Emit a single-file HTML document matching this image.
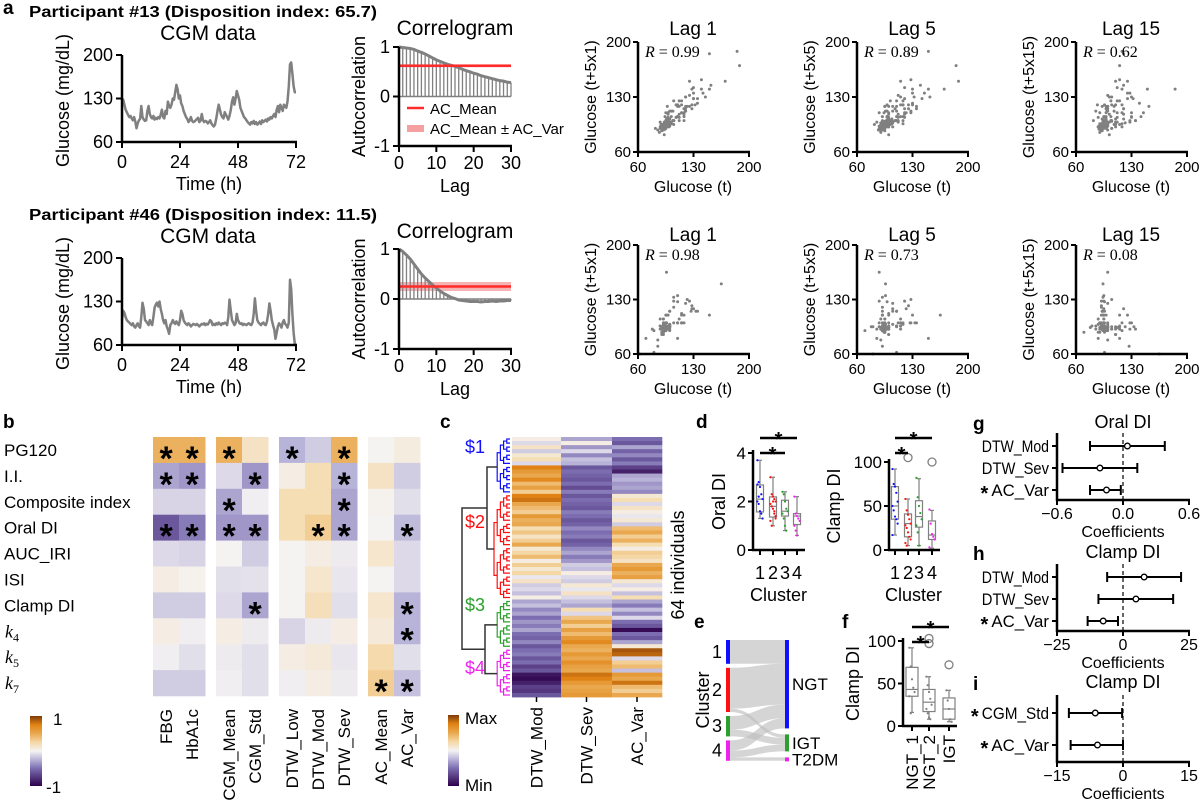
<!DOCTYPE html>
<html><head><meta charset="utf-8"><style>
body{margin:0;background:#fff}
svg{font-family:"Liberation Sans",Arial,sans-serif;display:block}
</style></head><body>
<svg id="fig" xmlns="http://www.w3.org/2000/svg" width="1200" height="808" viewBox="0 0 1200 808"></svg>
<script>
// ===== DATA =====
const cgm13=[130,128,120,112,108,104,100,102,98,95,100,93,82,90,95,97,118,100,96,94,95,110,118,105,
100,98,102,96,99,97,100,98,104,112,100,98,110,105,125,118,115,120,130,128,140,152,145,130,
135,122,118,110,105,100,97,92,95,100,94,92,93,95,97,99,92,94,105,95,92,94,93,90,
92,95,90,87,85,88,98,110,120,112,104,100,98,108,104,100,96,102,112,125,132,120,130,142,
135,128,115,110,105,100,98,95,92,90,88,92,90,94,89,92,88,90,93,89,95,92,94,96,
93,98,96,100,98,102,105,100,112,118,108,120,115,110,120,118,115,125,150,185,188,170,150,140,140];
const cgm46=[100,115,112,105,100,98,96,94,92,95,90,88,
92,95,90,88,105,128,118,100,98,95,92,100,
95,92,105,120,125,128,122,130,118,110,100,95,
100,90,85,78,92,95,100,96,94,98,95,92,
100,115,110,100,96,94,92,95,93,90,92,94,
93,92,94,92,90,92,94,93,95,92,94,93,
96,100,98,92,94,92,95,93,96,94,92,95,
94,96,95,92,105,133,115,100,96,92,95,110,
100,96,94,95,92,94,93,92,94,95,93,92,
96,110,135,115,100,96,94,92,95,96,93,92,
98,110,127,115,100,92,85,70,80,90,95,92,
88,96,100,94,92,88,96,165,150,110,80,62,60];
const acf13=[1,.99,.98,.97,.95,.92,.89,.86,.82,.78,.74,.71,.68,.65,.63,.61,.58,.55,.52,.5,.47,.45,.42,.4,.38,.36,.34,.32,.31,.29,.28];
const acf46=[1,.95,.88,.8,.7,.6,.5,.42,.35,.28,.22,.16,.11,.07,.03,.01,-.02,-.03,-.04,-.05,-.05,-.05,-.06,-.05,-.05,-.04,-.05,-.04,-.04,-.03,-.03];
const acMeans=[0.62,0.25];
const acVars=[0.03,0.09];
const lagLabels=[1,5,15];
const lagSteps=[1,2,5];
const rVals13=["0.99","0.89","0.62"];
const rVals46=["0.98","0.73","0.08"];

const bRows=["PG120","I.I.","Composite index","Oral DI","AUC_IRI","ISI","Clamp DI","k4","k5","k7"];
const bCols=["FBG","HbA1c","CGM_Mean","CGM_Std","DTW_Low","DTW_Mod","DTW_Sev","AC_Mean","AC_Var"];
const bVals=[
[.45,.45,.45,.15,-.25,-.15,.45,0,.06],
[-.3,-.35,-.1,-.35,.05,.2,-.25,.15,-.15],
[-.12,-.12,-.3,-.02,.2,.2,-.3,.02,-.08],
[-.6,-.45,-.35,-.35,.2,.3,-.3,0,-.22],
[-.1,-.12,0,-.15,0,.05,-.03,.12,-.1],
[.05,.02,-.08,-.07,0,.12,-.05,0,-.1],
[-.15,-.15,-.1,-.3,0,.18,-.08,.12,-.25],
[.05,-.02,.05,-.03,-.12,-.03,.05,.08,-.25],
[-.02,-.08,-.03,-.08,.05,.08,-.05,.22,-.08],
[-.15,-.15,-.02,-.08,-.02,.05,-.03,.3,-.2]];
const bStars=[
[1,1,1,0,1,0,1,0,0],[1,1,0,1,0,0,1,0,0],[0,0,1,0,0,0,1,0,0],[1,1,1,1,0,1,1,0,1],
[0,0,0,0,0,0,0,0,0],[0,0,0,0,0,0,0,0,0],[0,0,0,1,0,0,0,0,1],[0,0,0,0,0,0,0,0,1],
[0,0,0,0,0,0,0,0,0],[0,0,0,0,0,0,0,1,1]];

const cCols=["DTW_Mod","DTW_Sev","AC_Var"];
const cDtwMod=[.05,-.1,.15,-.15,.1,.2,-.1,.75,.6,.5,.7,.4,.55,.3,.75,.8,.5,.4,.3,.6,.45,.5,.2,.35,.15,.3,.5,.1,.25,.4,.05,.3,.1,.25,-.05,.15,-.15,-.1,-.2,.05,-.3,-.2,-.4,-.3,-.5,-.35,-.45,-.3,-.5,-.55,-.4,-.6,-.5,-.45,-.6,-.5,-.7,-.6,-.9,-.95,-.85,-.7,-.75,-.6];
const cDtwSev=[-.3,.05,-.35,-.1,-.4,-.2,-.25,-.6,-.5,-.55,-.6,-.5,-.65,-.45,-.6,-.5,-.55,-.6,-.45,-.5,-.6,-.55,-.4,-.5,-.45,-.6,-.55,-.4,-.3,-.45,-.35,-.15,-.2,.05,-.1,-.15,.1,-.05,.15,-.1,-.2,-.3,.2,-.1,.35,.5,.3,.55,.4,.6,.7,.5,.45,.6,.5,.65,.55,.5,.8,.75,.6,.5,.55,.6];
const cAcVar=[-.5,-.6,-.3,-.55,-.4,-.6,-.45,-.7,-.85,-.3,-.25,-.35,-.3,-.4,.1,.2,-.1,.15,.05,-.05,.1,-.15,.4,.5,.3,.45,.2,.05,.3,.25,.15,.5,.6,.45,.55,.1,-.1,.05,-.2,.2,-.3,-.45,-.2,-.4,-.1,-.5,-.6,-.95,-.5,-.6,-.3,.1,.9,.85,-.1,.3,.4,-.2,.6,.5,.8,.4,.3,.5];
const clusterStarts=[0,14,40,52];
const clusterEnds=[13,39,51,63];

const clusterNames=["1","2","3","4"];
const oralStats=[[1.3,1.57,2.1,2.68,3.7],[1.0,1.36,1.8,2.19,3.0],[0.8,1.4,1.6,2.05,2.4],[0.6,1.05,1.4,1.5,2.2]];
const oralPts=[[3.7,2.8,2.6,2.3,2.1,2.0,1.9,1.6,1.5,1.3,2.7,2.2],[3.0,2.3,2.2,2.1,2.0,1.9,1.8,1.7,1.5,1.3,1.2,1.0,2.0,1.6,1.4],[2.4,2.3,2.0,1.7,1.6,1.5,1.3,1.0,0.8],[2.2,1.5,1.4,1.3,1.2,1.0,0.8,0.6]];
const clampStats=[[17,35,50,72,92],[5,15,30,41,58],[5,26,38,56,81],[2,12,17,33,45]];
const clampOut=[[],[105],[],[100]];
const clampPts=[[92,75,72,65,55,50,45,38,35,30,17],[58,45,40,35,30,28,25,20,15,12,8,5],[82,60,50,42,35,28,20,5],[46,30,18,15,12,3]];
const fNames=["NGT_1","NGT_2","IGT"];
const fStats=[[16,35,43,69,92],[8,17,28,43,58],[5,8,20,33,42]];
const fOut=[[],[97,103],[72]];
const fPts=[[92,70,55,45,40,35,15],[58,48,40,32,25,20,15,10,8],[42,30,20,8,5]];

const sankeyGroups=["NGT","IGT","T2DM"];
const sankeyCounts=[[7,0,0],[12,1,0],[4,2,0],[3,2,1]];

const gLabels=["DTW_Mod","DTW_Sev","AC_Var"]; const gStar=[0,0,1];
const gEst=[0.04,-0.21,-0.15]; const gLo=[-0.30,-0.55,-0.30]; const gHi=[0.38,0.13,-0.02];
const hLabels=["DTW_Mod","DTW_Sev","AC_Var"]; const hStar=[0,0,1];
const hEst=[8,4.9,-7.5]; const hLo=[-6,-9.3,-13.4]; const hHi=[22,19,-1.9];
const iLabels=["CGM_Std","AC_Var"]; const iStar=[1,1];
const iEst=[-6.3,-5.8]; const iLo=[-12.3,-11.9]; const iHi=[-0.2,0];

// ===== HELPERS =====
const NS="http://www.w3.org/2000/svg";
const svg=document.getElementById("fig");
function mk(tag,attrs,name,parent){
  const el=document.createElementNS(NS,tag);
  for(const k in attrs) el.setAttribute(k,attrs[k]);
  
  
  (parent||svg).appendChild(el);
  return el;
}
function txt(x,y,s,name,o){
  o=o||{};
  const el=mk("text",{x:x,y:y,"font-size":o.size||16,"text-anchor":o.anchor||"middle",fill:o.fill||"#000"},name);
  el.textContent=s;
  if(o.rot) el.setAttribute("transform","rotate(-90 "+x+" "+y+")");
  if(o.bold) el.setAttribute("font-weight","bold");
  if(o.italic) el.setAttribute("font-style","italic");
  if(o.family) el.setAttribute("font-family",o.family);
  if(o.len){el.setAttribute("textLength",o.len);el.setAttribute("lengthAdjust","spacingAndGlyphs");}
  return el;
}
function ln(x1,y1,x2,y2,name,o){
  o=o||{};
  const el=mk("line",{x1:x1,y1:y1,x2:x2,y2:y2,stroke:o.stroke||"#000","stroke-width":o.w||2},name);
  if(o.dash) el.setAttribute("stroke-dasharray",o.dash);
  return el;
}
function lin(d0,d1,r0,r1){return v=>r0+(v-d0)/(d1-d0)*(r1-r0);}
const stops=[[-1,[45,0,75]],[-.5,[123,109,176]],[-.25,[184,179,216]],[0,[245,243,242]],[.25,[245,215,165]],[.5,[233,168,78]],[.75,[224,130,20]],[1,[127,59,8]]];
function cmap(v){
  v=Math.max(-1,Math.min(1,v));
  for(let i=0;i<stops.length-1;i++){
    const a=stops[i],b=stops[i+1];
    if(v<=b[0]){const t=(v-a[0])/(b[0]-a[0]);return "rgb("+a[1].map((c,j)=>Math.round(c+(b[1][j]-c)*t)).join(",")+")";}
  }
  return "rgb(127,59,8)";
}
const GRAY="#808080";

// ===== PANEL A =====
txt(3,14,"a","panel-label-a",{size:19,bold:true,anchor:"start"});
const rowsA=[
 {cgm:cgm13,acf:acf13,hdr:"Participant #13 (Disposition index: 65.7)",hy:17,cT:55,cB:142,aT:47,aB:146,sT:42,sB:152,off:0,r:rVals13,mean:acMeans[0],vr:acVars[0],id:"p13"},
 {cgm:cgm46,acf:acf46,hdr:"Participant #46 (Disposition index: 11.5)",hy:220,cT:258,cB:345,aT:249,aB:349,sT:245,sB:354,off:203,r:rVals46,mean:acMeans[1],vr:acVars[1],id:"p46"}];
rowsA.forEach((R,ri)=>{
  txt(29,R.hy,R.hdr,"participant-header-"+R.id,{size:16,bold:true,anchor:"start",len:348});
  const cx=lin(0,72,122,296), cy=lin(60,200,R.cB,R.cT);
  txt(208,40+R.off,"CGM data","cgm-title-"+R.id,{size:21});
  let pts=R.cgm.map((g,i)=>cx(i*0.5).toFixed(1)+","+cy(g).toFixed(1)).join(" ");
  mk("polyline",{points:pts,fill:"none",stroke:GRAY,"stroke-width":2.5,"stroke-linejoin":"round"},"cgm-line-"+R.id);
  ln(122,R.cT,122,R.cB+1,"cgm-y-axis-"+R.id,{w:2.5});
  ln(121,R.cB,297,R.cB,"cgm-x-axis-"+R.id,{w:2.5});
  [60,130,200].forEach(v=>{ln(116,cy(v),122,cy(v),"cgm-y-tick",{w:2});txt(113,cy(v)+6,String(v),"cgm-y-tick-label",{size:18,anchor:"end"});});
  [0,24,48,72].forEach(v=>{ln(cx(v),R.cB,cx(v),R.cB+6,"cgm-x-tick",{w:2});txt(cx(v),168+R.off,String(v),"cgm-x-tick-label",{size:18});});
  txt(209,190+R.off,"Time (h)","cgm-x-axis-title-"+R.id,{size:18});
  txt(69,(R.cT+R.cB)/2+2,"Glucose (mg/dL)","cgm-y-axis-title-"+R.id,{size:18,rot:true});
  const ax=lin(0,30,399,511), ay=lin(-1,1,R.aB,R.aT);
  txt(455,35+R.off,"Correlogram","correlogram-title-"+R.id,{size:21});
  mk("rect",{x:ax(0),y:ay(R.mean+R.vr),width:ax(30)-ax(0),height:ay(R.mean-R.vr)-ay(R.mean+R.vr),fill:"#f08080","fill-opacity":0.6},"ac-var-band-"+R.id);
  R.acf.forEach((v,i)=>{ln(ax(i),ay(0),ax(i),ay(v),"acf-stem",{stroke:GRAY,w:1.3});});
  mk("polyline",{points:R.acf.map((v,i)=>ax(i)+","+ay(v)).join(" "),fill:"none",stroke:GRAY,"stroke-width":3},"acf-markers-"+R.id);
  ln(ax(0),ay(0),ax(30),ay(0),"acf-zero-line",{stroke:GRAY,w:1.5});
  ln(ax(0),ay(R.mean),ax(30),ay(R.mean),"ac-mean-line-"+R.id,{stroke:"#ff2a2a",w:2.5});
  ln(399,R.aT,399,R.aB+1,"acf-y-axis",{w:2.5});
  ln(398,R.aB,512,R.aB,"acf-x-axis",{w:2.5});
  [-1,0,1].forEach(v=>{ln(393,ay(v),399,ay(v),"acf-y-tick",{w:2});txt(390,ay(v)+6,String(v),"acf-y-tick-label",{size:18,anchor:"end"});});
  [0,10,20,30].forEach(v=>{ln(ax(v),R.aB,ax(v),R.aB+6,"acf-x-tick",{w:2});txt(ax(v),169+R.off,String(v),"acf-x-tick-label",{size:18});});
  txt(455,192+R.off,"Lag","acf-x-axis-title",{size:18});
  txt(365,(R.aT+R.aB)/2,"Autocorrelation","acf-y-axis-title",{size:18,rot:true});
  if(ri===0){
    ln(407,108,424,108,"legend-ac-mean-swatch",{stroke:"#ff2a2a",w:2.5});
    txt(430,114,"AC_Mean","legend-ac-mean-label",{size:15,anchor:"start"});
    mk("rect",{x:407,y:125,width:17,height:7,fill:"#f08080","fill-opacity":0.75},"legend-ac-var-swatch");
    txt(430,134,"AC_Mean ± AC_Var","legend-ac-var-label",{size:15,anchor:"start"});
  }
  lagLabels.forEach((L,k)=>{
    const x0=638+k*219;
    const sx=lin(60,200,x0,x0+111), sy=lin(60,200,R.sB,R.sT);
    txt(x0+55,35+R.off+(ri?3:0),"Lag "+L,"lag"+L+"-title-"+R.id,{size:19});
    const st=lagSteps[k];
    for(let i=0;i+st<R.cgm.length;i++){
      mk("circle",{cx:sx(R.cgm[i]).toFixed(1),cy:sy(R.cgm[i+st]).toFixed(1),r:1.5,fill:GRAY},"lag-scatter-point");
    }
    ln(x0,R.sT,x0,R.sB+1,"lag-y-axis",{w:2.5});
    ln(x0-1,R.sB,x0+112,R.sB,"lag-x-axis",{w:2.5});
    [60,130,200].forEach(v=>{
      ln(x0-5,sy(v),x0,sy(v),"lag-y-tick",{w:2});txt(x0-7,sy(v)+5,String(v),"lag-y-tick-label",{size:15,anchor:"end"});
      ln(sx(v),R.sB,sx(v),R.sB+5,"lag-x-tick",{w:2});txt(sx(v),R.sB+20,String(v),"lag-x-tick-label",{size:15});
    });
    txt(x0+55,R.sB+40,"Glucose (t)","lag-x-axis-title",{size:16});
    txt(x0-42,(R.sT+R.sB)/2,"Glucose (t+5x"+L+")","lag-y-axis-title",{size:16,rot:true});
    const rt=txt(x0+7,R.sT+15,"","lag-r-value",{size:16,anchor:"start",family:'"Liberation Serif",serif'});
    const t1=mk("tspan",{"font-style":"italic"},"r-symbol",rt); t1.textContent="R";
    const t2=mk("tspan",{},"r-number",rt); t2.textContent=" = "+R.r[k];
  });
});

// ===== PANEL B =====
txt(3,428,"b","panel-label-b",{size:19,bold:true,anchor:"start"});
const bColX=[153,179,216,242,279,305,331,368,394];
const bW=26.2, bY0=437, bH=25.9;
bVals.forEach((row,r)=>row.forEach((v,c)=>{
  mk("rect",{x:bColX[c],y:bY0+r*bH,width:bW+0.3,height:bH+0.3,fill:cmap(v)},"heatmap-b-cell");
  if(bStars[r][c]) txt(bColX[c]+bW/2,bY0+r*bH+bH/2+20,"*","significance-star",{size:34,bold:true});
}));
bRows.forEach((s,r)=>{
  const y=bY0+r*bH+bH/2+6;
  if(s[0]==="k"){
    const t=txt(5,y,"","row-label-"+s,{size:18,anchor:"start",family:'"Liberation Serif",serif'});
    const a=mk("tspan",{"font-style":"italic"},"row-label-k",t); a.textContent="k";
    const b=mk("tspan",{"font-size":12,dy:4},"row-label-subscript",t); b.textContent=s.slice(1);
  } else txt(4,y,s,"row-label-"+s.toLowerCase().replace(/[^a-z0-9]+/g,"-"),{size:17,anchor:"start"});
});
bCols.forEach((s,c)=>txt(bColX[c]+bW/2+6,709,s,"col-label-"+s.toLowerCase(),{size:17,anchor:"end",rot:true}));
const defs=mk("defs",{},"gradient-defs");
const grad=mk("linearGradient",{id:"cbar",x1:0,y1:0,x2:0,y2:1},"colorbar-gradient",defs);
[1,.75,.5,.25,0,-.25,-.5,-.75,-1].forEach((v,i)=>mk("stop",{offset:(i/8),"stop-color":cmap(v)},"gradient-stop",grad));
mk("rect",{x:30,y:716,width:12,height:70,fill:"url(#cbar)"},"colorbar-b");
txt(53,725,"1","colorbar-b-max",{size:17,anchor:"start"});
txt(46,793,"-1","colorbar-b-min",{size:17,anchor:"start"});

// ===== PANEL C =====
txt(440,428,"c","panel-label-c",{size:19,bold:true,anchor:"start"});
const cX=[512,561,612], cWd=[49,51,50], cY0=437, cRH=260/64;
[cDtwMod,cDtwSev,cAcVar].forEach((arr,c)=>arr.forEach((v,i)=>{
  mk("rect",{x:cX[c],y:cY0+i*cRH,width:cWd[c]+0.3,height:cRH+0.4,fill:cmap(v)},"heatmap-c-cell");
}));
cCols.forEach((s,c)=>{const xc=cX[c]+cWd[c]/2;ln(xc,697,xc,702,"heatmap-c-tick",{w:1.5});txt(xc+6,707,s,"heatmap-c-col-label-"+s.toLowerCase(),{size:17,anchor:"end",rot:true});});
txt(684,565,"64 individuals","heatmap-c-row-axis-title",{size:18,rot:true});
const clColors=["#1010ff","#ff1010","#2ca02c","#ee22ee"];
function tree(lo,hi,color){
  const leafX=510;
  if(lo===hi) return {x:leafX,y:cY0+(lo+0.5)*cRH};
  const mid=Math.floor((lo+hi)/2);
  const a=tree(lo,mid,color), b=tree(mid+1,hi,color);
  const x=leafX-Math.ceil(Math.log2(hi-lo+1))*3.2;
  mk("polyline",{points:a.x+","+a.y+" "+x+","+a.y+" "+x+","+b.y+" "+b.x+","+b.y,fill:"none",stroke:color,"stroke-width":1.2},"dendrogram-branch");
  return {x:x,y:(a.y+b.y)/2};
}
const roots=clusterStarts.map((s,k)=>tree(s,clusterEnds[k],clColors[k]));
function join(a,b,x){mk("polyline",{points:a.x+","+a.y+" "+x+","+a.y+" "+x+","+b.y+" "+b.x+","+b.y,fill:"none",stroke:"#333","stroke-width":1.5},"dendrogram-join");return {x:x,y:(a.y+b.y)/2};}
const j12=join(roots[0],roots[1],487), j34=join(roots[2],roots[3],485);
join(j12,j34,462);
const clY=[453,528,611,674];
clY.forEach((y,k)=>txt(465,y,"$"+(k+1),"cluster-label-"+(k+1),{size:18,anchor:"start",fill:clColors[k]}));
const grad2=mk("linearGradient",{id:"cbar2",x1:0,y1:0,x2:0,y2:1},"colorbar-c-gradient",defs);
[1,.75,.5,.25,0,-.25,-.5,-.75,-1].forEach((v,i)=>mk("stop",{offset:(i/8),"stop-color":cmap(v)},"gradient-stop",grad2));
mk("rect",{x:448,y:715,width:11,height:71,fill:"url(#cbar2)"},"colorbar-c");
txt(465,724,"Max","colorbar-c-max",{size:17,anchor:"start"});
txt(465,791,"Min","colorbar-c-min",{size:17,anchor:"start"});

// ===== BOXPLOT helper =====
function boxplot(cfg){
  const y=lin(cfg.d0,cfg.d1,cfg.yb,cfg.yt);
  cfg.stats.forEach((s,i)=>{
    const xc=cfg.xs[i], hw=cfg.hw;
    ln(xc,y(s[0]),xc,y(s[1]),"box-whisker-low",{stroke:GRAY,w:1.2});
    ln(xc,y(s[3]),xc,y(s[4]),"box-whisker-high",{stroke:GRAY,w:1.2});
    ln(xc-2,y(s[0]),xc+2,y(s[0]),"box-cap",{stroke:GRAY,w:1.2});
    ln(xc-2,y(s[4]),xc+2,y(s[4]),"box-cap",{stroke:GRAY,w:1.2});
    mk("rect",{x:xc-hw,y:y(s[3]),width:2*hw,height:y(s[1])-y(s[3]),fill:"none",stroke:GRAY,"stroke-width":1.2},"box-iqr");
    ln(xc-hw,y(s[2]),xc+hw,y(s[2]),"box-median",{stroke:GRAY,w:1.2});
    (cfg.pts[i]||[]).forEach((v,j)=>mk("circle",{cx:xc+((j%5)-2)*1.3,cy:y(v),r:1.1,fill:cfg.colors?cfg.colors[i]:GRAY},"box-point"));
    (cfg.out[i]||[]).forEach(v=>mk("circle",{cx:xc,cy:y(v),r:4,fill:"none",stroke:GRAY,"stroke-width":1.3},"box-outlier"));
  });
  ln(cfg.ax,cfg.yt-3,cfg.ax,cfg.yb+1,cfg.name+"-y-axis",{w:2.5});
  ln(cfg.ax-1,cfg.yb,cfg.xs[cfg.xs.length-1]+8,cfg.yb,cfg.name+"-x-axis",{w:2.5});
  cfg.ticks.forEach(v=>{ln(cfg.ax-5,y(v),cfg.ax,y(v),"box-y-tick",{w:2});txt(cfg.ax-7,y(v)+6,String(v),"box-y-tick-label",{size:17,anchor:"end"});});
  cfg.xs.forEach(x=>ln(x,cfg.yb,x,cfg.yb+5,"box-x-tick",{w:2}));
  cfg.sig.forEach(s=>{ln(cfg.xs[s[0]],s[2],cfg.xs[s[1]],s[2],"significance-bar",{w:2.5});txt((cfg.xs[s[0]]+cfg.xs[s[1]])/2,s[2]+8,"*","significance-star",{size:20,bold:true});});
  txt(cfg.ylx,(cfg.yt+cfg.yb)/2,cfg.ylabel,cfg.name+"-y-axis-title",{size:18,rot:true});
}
// ===== PANEL D =====
txt(696,428,"d","panel-label-d",{size:19,bold:true,anchor:"start"});
boxplot({name:"oral-di",d0:0,d1:4,yb:550,yt:453,xs:[760,773,785,797],hw:3.5,stats:oralStats,pts:oralPts,out:[[],[],[],[]],colors:clColors,ax:753,ticks:[0,2,4],sig:[[0,2,453],[0,3,438]],ylx:725,ylabel:"Oral DI"});
boxplot({name:"clamp-di",d0:0,d1:100,yb:550,yt:462,xs:[895,908,919,932],hw:3.5,stats:clampStats,pts:clampPts,out:clampOut,colors:clColors,ax:889,ticks:[0,50,100],sig:[[0,1,453],[0,3,438]],ylx:840,ylabel:"Clamp DI"});
[[760,773,785,797],[895,908,919,932]].forEach((xs,p)=>{
  xs.forEach((x,i)=>txt(x,579,clusterNames[i],"cluster-tick-label",{size:18}));
  txt((xs[0]+xs[3])/2,601,"Cluster","box-x-axis-title",{size:18});
});

// ===== PANEL E =====
txt(694,628,"e","panel-label-e",{size:19,bold:true,anchor:"start"});
const u=3.4, lx=730, rx=785;
const leftTop=[], rightTop=[];
let yy=640;
sankeyCounts.forEach(row=>{leftTop.push(yy);yy+=row.reduce((a,b)=>a+b,0)*u+4;});
yy=640;
sankeyGroups.forEach((g,j)=>{rightTop.push(yy);yy+=sankeyCounts.reduce((a,r)=>a+r[j],0)*u+6;});
const rightCur=rightTop.slice();
sankeyCounts.forEach((row,i)=>{
  let lc=leftTop[i];
  row.forEach((n,j)=>{
    if(!n) return;
    const h=n*u, r0=rightCur[j], xm=(lx+rx)/2;
    mk("path",{d:`M${lx},${lc} C${xm},${lc} ${xm},${r0} ${rx},${r0} L${rx},${r0+h} C${xm},${r0+h} ${xm},${lc+h} ${lx},${lc+h} Z`,fill:"#bfbfbf","fill-opacity":0.65},"sankey-flow");
    lc+=h; rightCur[j]+=h;
  });
});
sankeyCounts.forEach((row,i)=>{
  const h=row.reduce((a,b)=>a+b,0)*u;
  mk("rect",{x:lx-4,y:leftTop[i],width:4,height:h,fill:clColors[i]},"sankey-cluster-bar-"+(i+1));
  txt(722,leftTop[i]+h/2+6,clusterNames[i],"sankey-cluster-label",{size:18,anchor:"end"});
});
const grpColors=["#1010ff","#2ca02c","#ee22ee"];
sankeyGroups.forEach((g,j)=>{
  const h=sankeyCounts.reduce((a,r)=>a+r[j],0)*u;
  mk("rect",{x:rx,y:rightTop[j],width:4,height:Math.max(h,4),fill:grpColors[j]},"sankey-group-bar-"+g.toLowerCase());
  txt(792,rightTop[j]+Math.max(h,4)/2+6,g,"sankey-group-label-"+g.toLowerCase(),{size:17,anchor:"start"});
});
txt(709,700,"Cluster","sankey-axis-title",{size:18,rot:true});

// ===== PANEL F =====
txt(842,628,"f","panel-label-f",{size:19,bold:true,anchor:"start"});
boxplot({name:"f-clamp-di",d0:0,d1:100,yb:726,yt:641,xs:[912,929,949],hw:6,stats:fStats,pts:fPts,out:fOut,ax:903,ticks:[0,50,100],sig:[[0,1,642],[0,2,627]],ylx:859,ylabel:"Clamp DI"});
fNames.forEach((s,i)=>txt([912,929,949][i]+6,735,s,"f-x-tick-label-"+s.toLowerCase(),{size:17,anchor:"end",rot:true}));

// ===== PANELS G/H/I =====
function forest(cfg){
  const x=lin(cfg.d0,cfg.d1,1057,1189);
  txt(973,cfg.titleY+2,cfg.letter,"panel-label-"+cfg.letter,{size:19,bold:true,anchor:"start"});
  txt(1123,cfg.titleY,cfg.title,"forest-title-"+cfg.letter,{size:18});
  ln(x(0),cfg.top,x(0),cfg.axisY,"zero-reference-line",{w:1.2,dash:"4,3"});
  cfg.labels.forEach((s,i)=>{
    const y=cfg.rows[i];
    ln(x(cfg.lo[i]),y,x(cfg.hi[i]),y,"ci-bar",{w:2});
    ln(x(cfg.lo[i]),y-5,x(cfg.lo[i]),y+5,"ci-cap",{w:2});
    ln(x(cfg.hi[i]),y-5,x(cfg.hi[i]),y+5,"ci-cap",{w:2});
    mk("circle",{cx:x(cfg.est[i]),cy:y,r:2.8,fill:"#fff",stroke:"#000","stroke-width":1.3},"coefficient-estimate");
    ln(1052,y,1057,y,"forest-y-tick",{w:2});
    txt(1049,y+6,s,"forest-row-label",{size:17,anchor:"end",len:s.length*9.6});
    if(cfg.star[i]) txt(1049-s.length*9.6-7,y+10,"*","forest-significance-star",{size:20,bold:true});
  });
  ln(1057,cfg.top,1057,cfg.axisY+1,"forest-y-axis",{w:2.5});
  ln(1056,cfg.axisY,1190,cfg.axisY,"forest-x-axis",{w:2.5});
  cfg.ticks.forEach((v,i)=>{ln(x(v),cfg.axisY,x(v),cfg.axisY+5,"forest-x-tick",{w:2});txt(x(v),cfg.axisY+19,cfg.tickLabels[i],"forest-x-tick-label",{size:16});});
  txt(1123,cfg.axisY+37,"Coefficients","forest-x-axis-title",{size:16});
}
forest({letter:"g",title:"Oral DI",titleY:428,top:433,axisY:500,rows:[446,468,490],labels:gLabels,star:gStar,est:gEst,lo:gLo,hi:gHi,d0:-0.6,d1:0.6,ticks:[-0.6,0,0.6],tickLabels:["−0.6","0.0","0.6"]});
forest({letter:"h",title:"Clamp DI",titleY:558,top:564,axisY:631,rows:[577,599,621],labels:hLabels,star:hStar,est:hEst,lo:hLo,hi:hHi,d0:-25,d1:25,ticks:[-25,0,25],tickLabels:["−25","0","25"]});
forest({letter:"i",title:"Clamp DI",titleY:688,top:695,axisY:762,rows:[713,745],labels:iLabels,star:iStar,est:iEst,lo:iLo,hi:iHi,d0:-15,d1:15,ticks:[-15,0,15],tickLabels:["−15","0","15"]});
</script>
</body></html>
